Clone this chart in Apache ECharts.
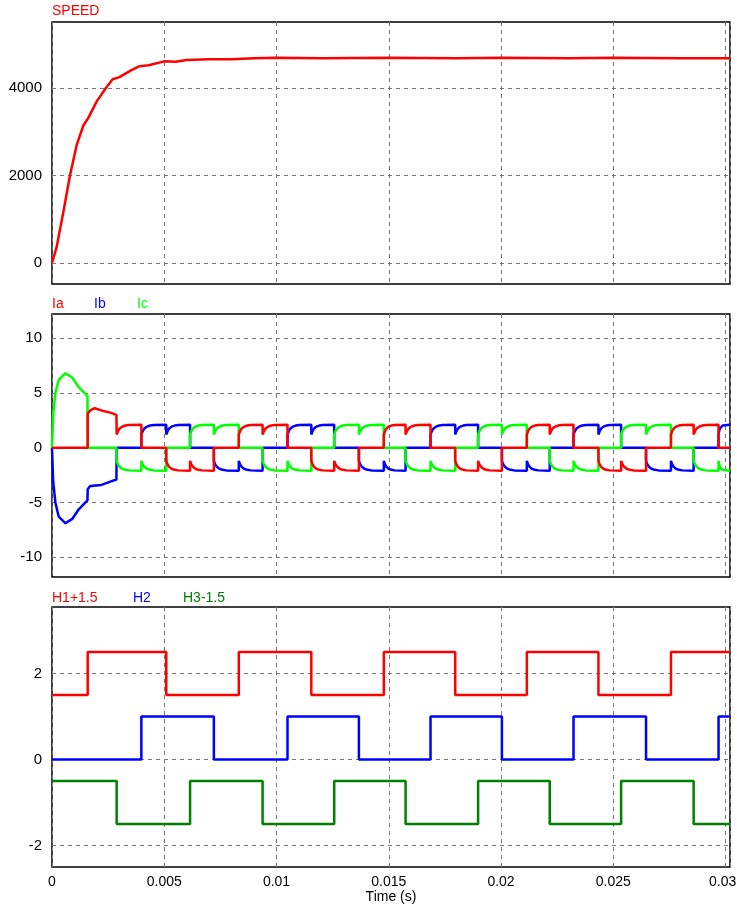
<!DOCTYPE html>
<html>
<head>
<meta charset="utf-8">
<script src="https://cdn.jsdelivr.net/npm/echarts@6/dist/echarts.min.js"></script>
<style>html,body{margin:0;padding:0;background:#fff}#main{width:737px;height:909px}</style>
</head>
<body>
<div id="main"></div>
<script>
// time in ms (converted to s below)
var speedT = [0, 0.2, 0.5, 0.8, 1.1, 1.4, 1.6, 2.0, 2.4, 2.7, 3.0, 3.5, 3.9, 4.3, 5.0, 5.5, 6.0, 7.0, 8.0, 9.0, 10, 12, 15, 18, 20, 23, 25, 28, 30.2];
var speedV = [0, 350, 1150, 2000, 2700, 3150, 3300, 3700, 4000, 4200, 4250, 4400, 4500, 4520, 4610, 4600, 4640, 4660, 4660, 4680, 4690, 4680, 4690, 4680, 4690, 4680, 4690, 4680, 4680];

// commutation instants (ms), read from hall edges
var commT = [2.88, 3.98, 5.09, 6.15, 7.21, 8.32, 9.38, 10.49, 11.55, 12.57, 13.67, 14.78, 15.75, 16.86, 17.96, 18.98, 20.04, 21.15, 22.17, 23.23, 24.34, 25.35, 26.46, 27.57, 28.58, 29.69, 30.2];
var posPhase = ['a', 'b', 'b', 'c', 'c', 'a', 'a', 'b', 'b', 'c', 'c', 'a', 'a', 'b', 'b', 'c', 'c', 'a', 'a', 'b', 'b', 'c', 'c', 'a', 'a', 'b'];
var negPhase = ['c', 'c', 'a', 'a', 'b', 'b', 'c', 'c', 'a', 'a', 'b', 'b', 'c', 'c', 'a', 'a', 'b', 'b', 'c', 'c', 'a', 'a', 'b', 'b', 'c', 'c'];
// shape of a conduction segment: fraction of interval -> |current|
var segFrac = [0, 0.05, 0.12, 0.22, 0.35, 0.5, 1];
var segVal = [1.2, 1.5, 1.75, 1.92, 2.02, 2.07, 2.1];

// start-up part (ms, A)
var iaStart = [[0, 0], [1.59, 0], [1.59, 3.1], [1.7, 3.4], [1.9, 3.6], [2.2, 3.4], [2.6, 3.2], [2.87, 3.0]];
var ibStart = [[0, 0], [0.05, -3], [0.15, -5], [0.3, -6.3], [0.6, -6.9], [0.9, -6.5], [1.2, -5.6], [1.58, -4.8], [1.59, -3.8], [1.7, -3.5], [2.2, -3.4], [2.6, -3.1], [2.87, -2.9]];
var icStart = [[0, 0], [0.05, 3], [0.15, 5], [0.3, 6.2], [0.6, 6.8], [0.9, 6.4], [1.2, 5.5], [1.58, 4.7], [1.59, 0], [2.87, 0]];

var h1Edges = [1.59, 5.09, 8.32, 11.55, 14.78, 17.96, 21.15, 24.34, 27.57];
var h2Edges = [3.98, 7.21, 10.49, 13.67, 16.86, 20.04, 23.23, 26.46, 29.69];
var h3Edges = [2.88, 6.15, 9.38, 12.57, 15.75, 18.98, 22.17, 25.35, 28.58];

function buildPhase(ph, start) {
  var d = start.slice();
  for (var k = 0; k < commT.length - 1; k++) {
    var t0 = commT[k], t1 = commT[k + 1], s = 0;
    if (posPhase[k] === ph) s = 1; else if (negPhase[k] === ph) s = -1;
    if (s === 0) { d.push([t0, 0]); d.push([t1 - 0.001, 0]); continue; }
    for (var j = 0; j < segFrac.length; j++) d.push([t0 + segFrac[j] * (t1 - t0), s * segVal[j]]);
  }
  return d.map(function (p) { return [p[0] / 1000, p[1]]; });
}
function buildHall(edges, lo, hi, startHigh) {
  var d = [], v = startHigh ? hi : lo;
  d.push([0, v]);
  edges.forEach(function (t) { v = v === hi ? lo : hi; d.push([t / 1000, v]); });
  d.push([0.0302, v]);
  return d;
}

var grids = [
  { left: 52, width: 678, top: 22, height: 262 },
  { left: 52, width: 678, top: 314, height: 263 },
  { left: 52, width: 678, top: 607, height: 260 }
];
var dash = { show: true, lineStyle: { type: [4, 4], color: '#777', width: 1 } };
function xAx(i, labels) {
  return {
    type: 'value', gridIndex: i, min: 0, max: 0.0302, interval: 0.005,
    axisLine: { show: false }, axisTick: { show: false }, splitLine: dash,
    axisLabel: { show: labels, color: '#000', fontSize: 14, fontFamily: 'Liberation Sans', margin: 8,
      formatter: function (v) { return v > 0.0299 ? '' : String(+v.toFixed(3)); } },
    name: labels ? 'Time (s)' : '', nameLocation: 'middle', nameGap: 22,
    nameTextStyle: { color: '#000', fontSize: 14, fontFamily: 'Liberation Sans' }
  };
}
function yAx(i, min, max, vals) {
  return {
    type: 'value', gridIndex: i, min: min, max: max,
    axisLine: { show: false },
    axisTick: { show: false, customValues: vals },
    axisLabel: { customValues: vals, color: '#000', fontSize: 15, fontFamily: 'Liberation Sans', margin: 10,
      formatter: function (v) { return String(v); } },
    splitLine: dash
  };
}
function line(name, xi, data, color, step) {
  return { name: name, type: 'line', xAxisIndex: xi, yAxisIndex: xi, data: data, step: step || false,
    symbol: 'none', lineStyle: { color: color, width: 2.5 }, animation: false };
}

var chart = echarts.init(document.getElementById('main'));
chart.setOption({
  animation: false,
  grid: grids.map(function (g) { return Object.assign({ show: true, borderColor: '#000', borderWidth: 1.5, backgroundColor: '#fff', containLabel: false, outerBoundsMode: 'none' }, g); }),
  xAxis: [xAx(0, false), xAx(1, false), xAx(2, true)],
  yAxis: [yAx(0, -480, 5510, [0, 2000, 4000]), yAx(1, -11.8, 12.2, [-10, -5, 0, 5, 10]), yAx(2, -2.5, 3.55, [-2, 0, 2])],
  series: [
    line('SPEED', 0, speedT.map(function (t, i) { return [t / 1000, speedV[i]]; }), '#ff0000'),
    line('Ib', 1, buildPhase('b', ibStart), '#0000ff'),
    line('Ic', 1, buildPhase('c', icStart), '#00ff00'),
    line('Ia', 1, buildPhase('a', iaStart), '#ff0000'),
    line('H1+1.5', 2, buildHall(h1Edges, 1.5, 2.5, false), '#ff0000', 'end'),
    line('H2', 2, buildHall(h2Edges, 0, 1, false), '#0000ff', 'end'),
    line('H3-1.5', 2, buildHall(h3Edges, -1.5, -0.5, true), '#008000', 'end')
  ],
  graphic: [
    { type: 'text', left: 52, top: 4, style: { text: 'SPEED', fill: '#ff0000', font: '14px Liberation Sans' } },
    { type: 'text', left: 52, top: 297, style: { text: 'Ia', fill: '#ff0000', font: '14px Liberation Sans' } },
    { type: 'text', left: 94, top: 297, style: { text: 'Ib', fill: '#0000ff', font: '14px Liberation Sans' } },
    { type: 'text', left: 137, top: 297, style: { text: 'Ic', fill: '#00ff00', font: '14px Liberation Sans' } },
    { type: 'text', left: 52, top: 591, style: { text: 'H1+1.5', fill: '#ff0000', font: '14px Liberation Sans' } },
    { type: 'text', left: 133, top: 591, style: { text: 'H2', fill: '#0000ff', font: '14px Liberation Sans' } },
    { type: 'text', left: 183, top: 591, style: { text: 'H3-1.5', fill: '#008000', font: '14px Liberation Sans' } },
    { type: 'text', left: 709, top: 875, style: { text: '0.03', fill: '#000', font: '14px Liberation Sans' } }
  ]
});
</script>
</body>
</html>
